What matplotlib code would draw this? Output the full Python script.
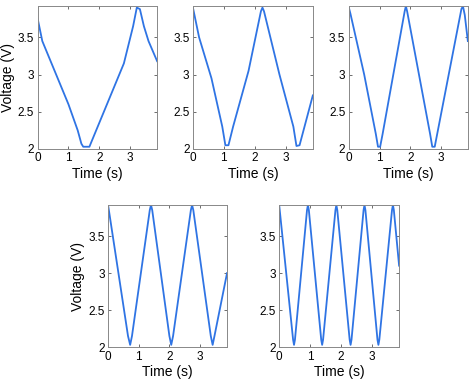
import matplotlib
matplotlib.use("Agg")
import matplotlib.pyplot as plt

plt.rcParams['font.family'] = ['Liberation Sans', 'DejaVu Sans']

# vertices of the voltage traces (time s, voltage V)
t1 = [0.0, 0.05, 0.15, 0.5, 1.0, 1.3, 1.42, 1.48, 1.68, 1.75, 2.2, 2.8, 3.1, 3.22, 3.32, 3.45, 3.6, 3.88]
v1 = [3.75, 3.65, 3.45, 3.1, 2.6, 2.25, 2.07, 2.03, 2.03, 2.1, 2.55, 3.15, 3.65, 3.9, 3.88, 3.65, 3.45, 3.18]

t2 = [0.0, 0.2, 0.6, 0.95, 1.05, 1.15, 1.3, 1.8, 2.2, 2.25, 2.3, 2.8, 3.25, 3.35, 3.45, 3.88]
v2 = [3.9, 3.5, 2.95, 2.3, 2.05, 2.05, 2.3, 3.05, 3.85, 3.9, 3.85, 3.0, 2.3, 2.04, 2.05, 2.72]

t3 = [0.0, 0.05, 0.5, 0.88, 0.95, 1.02, 1.1, 1.82, 1.86, 1.9, 2.65, 2.72, 2.8, 2.88, 3.67, 3.72, 3.78, 3.88]
v3 = [3.9, 3.82, 3.0, 2.2, 2.03, 2.03, 2.2, 3.85, 3.92, 3.85, 2.2, 2.03, 2.03, 2.2, 3.88, 3.92, 3.8, 3.45]

t4 = [0.0, 0.65, 0.72, 0.78, 1.36, 1.4, 1.44, 2.0, 2.06, 2.12, 2.7, 2.74, 2.78, 3.35, 3.41, 3.47, 3.88]
v4 = [3.92, 2.15, 2.03, 2.15, 3.85, 3.92, 3.85, 2.15, 2.03, 2.15, 3.85, 3.92, 3.85, 2.15, 2.03, 2.15, 3.0]

t5 = [0.0, 0.45, 0.48, 0.51, 0.9, 0.93, 0.96, 1.36, 1.39, 1.42, 1.82, 1.85, 1.88, 2.28, 2.31, 2.34,
      2.73, 2.76, 2.79, 3.18, 3.21, 3.24, 3.65, 3.68, 3.71, 3.88]
v5 = [3.92, 2.1, 2.03, 2.1, 3.85, 3.92, 3.85, 2.1, 2.03, 2.1, 3.85, 3.92, 3.85, 2.1, 2.03, 2.1,
      3.85, 3.92, 3.85, 2.1, 2.03, 2.1, 3.85, 3.92, 3.85, 3.1]

traces = [(t1, v1), (t2, v2), (t3, v3), (t4, v4), (t5, v5)]
show_ylabel = [True, False, False, True, False]

positions = [
    [0.0795, 0.609, 0.252, 0.375],
    [0.407, 0.609, 0.253, 0.375],
    [0.736, 0.609, 0.251, 0.375],
    [0.228, 0.089, 0.251, 0.373],
    [0.589, 0.089, 0.253, 0.373],
]

fig = plt.figure(figsize=(4.74, 3.81), dpi=100)

for (t, v), pos, ylab in zip(traces, positions, show_ylabel):
    ax = fig.add_axes(pos)
    ax.plot(t, v, color='#2f74e4', linewidth=1.3)
    ax.set_xlim(0, 3.88)
    ax.set_ylim(2, 3.92)
    ax.set_xticks([0, 1, 2, 3])
    ax.set_yticks([2, 2.5, 3, 3.5])
    ax.set_yticklabels(['2', '2.5', '3', '3.5'])
    ax.tick_params(direction='in', top=True, right=True, length=2.5, width=0.6,
                   color='#555555', labelsize=8.5, pad=2.5)
    for s in ax.spines.values():
        s.set_color('#888888')
        s.set_linewidth(0.7)
    ax.set_xlabel('Time (s)', fontsize=10, labelpad=2)
    if ylab:
        ax.set_ylabel('Voltage (V)', fontsize=10, labelpad=2)

fig.savefig('out.png', dpi=100)
